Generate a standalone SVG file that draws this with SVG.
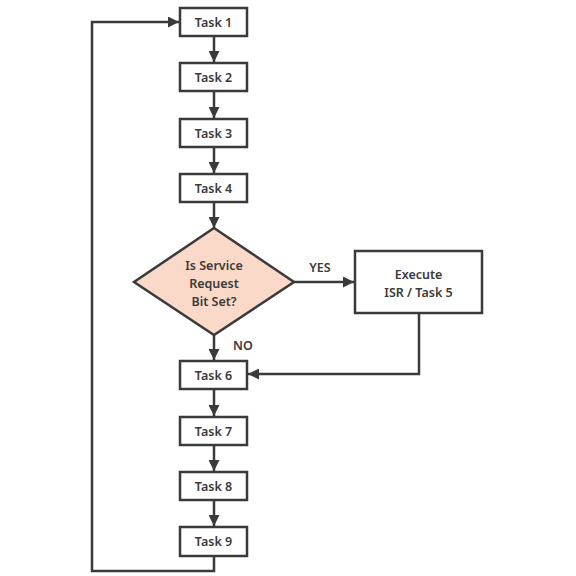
<svg xmlns="http://www.w3.org/2000/svg" width="576" height="576" viewBox="0 0 576 576">
<style>
.box{fill:#fff;stroke:#3a3a3a;stroke-width:2.5}
.dia{fill:#fbd9c8;stroke:#3a3a3a;stroke-width:2.5}
.t{font-family:"Noto Sans","Open Sans",sans-serif;font-size:12.5px;font-weight:600;fill:#3a3a3a;text-anchor:middle}
.c{fill:none;stroke:#3a3a3a;stroke-width:2.5}
</style>
<defs>
<marker id="ah" viewBox="0 0 10 10" refX="10" refY="5" markerWidth="4.4" markerHeight="4.4" orient="auto" markerUnits="strokeWidth">
<path d="M0,0 L10,5 L0,10 z" fill="#3a3a3a"/>
</marker>
</defs>
<rect width="576" height="576" fill="#fff"/>
<g id="connectors">
<path class="c" d="M214,36 V62" marker-end="url(#ah)"/>
<path class="c" d="M214,91 V118" marker-end="url(#ah)"/>
<path class="c" d="M214,147 V173" marker-end="url(#ah)"/>
<path class="c" d="M214,202 V228" marker-end="url(#ah)"/>
<path class="c" d="M294,282 H354" marker-end="url(#ah)"/>
<path class="c" d="M214,335 V360" marker-end="url(#ah)"/>
<path class="c" d="M419,313 V374 H248" marker-end="url(#ah)"/>
<path class="c" d="M214,389 V416" marker-end="url(#ah)"/>
<path class="c" d="M214,445 V471" marker-end="url(#ah)"/>
<path class="c" d="M214,500 V526" marker-end="url(#ah)"/>
<path class="c" d="M214,556 V571 H92 V22 H179" marker-end="url(#ah)"/>
<text class="t" x="320" y="272">YES</text>
<text class="t" x="243" y="350">NO</text>
</g>
<g id="task1"><rect class="box" x="180" y="8" width="67" height="28"/><text class="t" x="213.5" y="26.5">Task 1</text></g>
<g id="task2"><rect class="box" x="180" y="63" width="67" height="28"/><text class="t" x="213.5" y="81.5">Task 2</text></g>
<g id="task3"><rect class="box" x="180" y="119" width="67" height="28"/><text class="t" x="213.5" y="137.5">Task 3</text></g>
<g id="task4"><rect class="box" x="180" y="174" width="67" height="28"/><text class="t" x="213.5" y="192.5">Task 4</text></g>
<g id="decision"><path class="dia" d="M214,228 L294,282 L214,335 L134,282 Z"/>
<text class="t" x="214" y="269.5">Is Service</text>
<text class="t" x="214" y="287.5">Request</text>
<text class="t" x="214" y="305.5">Bit Set?</text></g>
<g id="isr"><rect class="box" x="355" y="251" width="127" height="62"/>
<text class="t" x="418.5" y="278.5">Execute</text>
<text class="t" x="418.5" y="296.5">ISR / Task 5</text></g>
<g id="task6"><rect class="box" x="180" y="361" width="67" height="28"/><text class="t" x="213.5" y="379.5">Task 6</text></g>
<g id="task7"><rect class="box" x="180" y="417" width="67" height="28"/><text class="t" x="213.5" y="435.5">Task 7</text></g>
<g id="task8"><rect class="box" x="180" y="472" width="67" height="28"/><text class="t" x="213.5" y="490.5">Task 8</text></g>
<g id="task9"><rect class="box" x="180" y="527" width="67" height="29"/><text class="t" x="213.5" y="546">Task 9</text></g>
</svg>
